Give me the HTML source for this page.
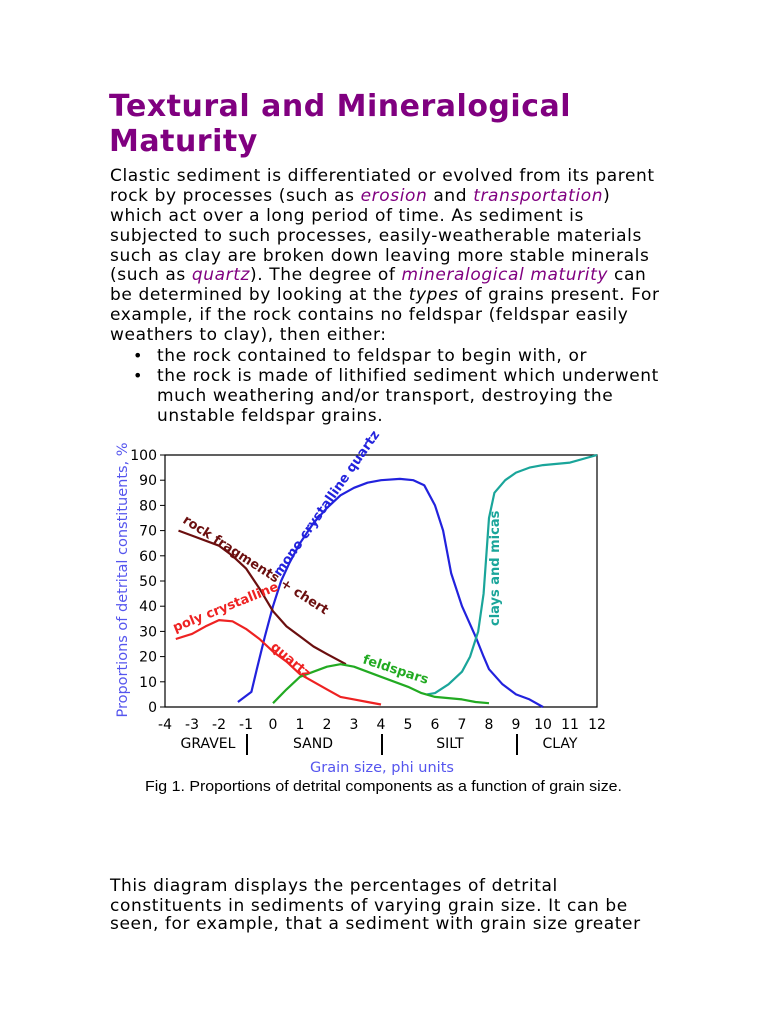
<!DOCTYPE html>
<html><head><meta charset="utf-8">
<style>
body{margin:0;background:#fff;width:768px;height:1024px;position:relative;overflow:hidden;font-family:"DejaVu Sans","Liberation Sans",sans-serif;color:#000}
.t{position:absolute;left:109px;font-size:30px;font-weight:bold;color:#800080;white-space:nowrap;letter-spacing:0.5px}
.l{position:absolute;left:110px;font-size:17px;line-height:20px;white-space:nowrap;letter-spacing:0.6px}
.p{color:#800080;font-style:italic}
.b{position:absolute;left:133px;font-size:16px}
</style></head><body>
<div class="t" style="top:89px">Textural and Mineralogical</div>
<div class="t" style="top:124px">Maturity</div>
<div>
<div class="l" style="top:166px">Clastic sediment is differentiated or evolved from its parent</div>
<div class="l" style="top:186px">rock by processes (such as <span class="p">erosion</span> and <span class="p">transportation</span>)</div>
<div class="l" style="top:206px">which act over a long period of time. As sediment is</div>
<div class="l" style="top:226px">subjected to such processes, easily-weatherable materials</div>
<div class="l" style="top:246px">such as clay are broken down leaving more stable minerals</div>
<div class="l" style="top:265px">(such as <span class="p">quartz</span>). The degree of <span class="p">mineralogical maturity</span> can</div>
<div class="l" style="top:285px">be determined by looking at the <i>types</i> of grains present. For</div>
<div class="l" style="top:305px">example, if the rock contains no feldspar (feldspar easily</div>
<div class="l" style="top:325px">weathers to clay), then either:</div>
</div>
<div>
<div class="b" style="top:346px">•</div><div class="l" style="left:157px;top:346px">the rock contained to feldspar to begin with, or</div>
<div class="b" style="top:366px">•</div><div class="l" style="left:157px;top:366px">the rock is made of lithified sediment which underwent</div>
<div class="l" style="left:157px;top:386px">much weathering and/or transport, destroying the</div>
<div class="l" style="left:157px;top:406px">unstable feldspar grains.</div>
</div>
<svg id="chart" style="position:absolute;left:0;top:0" width="768" height="1024"></svg>
<div style="position:absolute;left:145px;top:779px;font-family:'Liberation Sans',sans-serif;font-size:14.5px;transform-origin:0 0;transform:scaleX(1.1);white-space:nowrap">Fig 1. Proportions of detrital components as a function of grain size.</div>
<div>
<div class="l" style="top:876px">This diagram displays the percentages of detrital</div>
<div class="l" style="top:896px">constituents in sediments of varying grain size. It can be</div>
<div class="l" style="top:914px">seen, for example, that a sediment with grain size greater</div>
</div>
<script>
const xTicks=[-4,-3,-2,-1,0,1,2,3,4,5,6,7,8,9,10,11,12];
const yTicks=[0,10,20,30,40,50,60,70,80,90,100];
const monoX=[-1.3,-0.8,-0.6,-0.3,0,0.3,0.6,1,1.5,2,2.5,3,3.5,4,4.7,5.2,5.6,6,6.3,6.6,7,7.5,7.8,8,8.5,9,9.5,10];
const monoY=[2,6,15,28,40,50,57,65,73,79,84,87,89,90,90.5,90,88,80,70,53,40,28,20,15,9,5,3,0];
const clayX=[5.7,6,6.5,7,7.3,7.6,7.8,8,8.2,8.6,9,9.5,10,11,12];
const clayY=[5,5.5,9,14,20,30,45,75,85,90,93,95,96,97,100];
const rockX=[-3.5,-3,-2,-1.5,-1,-0.5,0,0.5,1,1.5,2,2.7];
const rockY=[70,68,64,60,55,47,38,32,28,24,21,17];
const polyX=[-3.6,-3,-2.5,-2,-1.5,-1,-0.5,0,0.5,1,1.5,2,2.5,3,3.5,4];
const polyY=[27,29,32,34.5,34,31,27,22,18,13,10,7,4,3,2,1];
const feldX=[0,0.5,1,1.5,2,2.5,3,4,5,5.5,6,7,7.5,8];
const feldY=[1.5,7,12,14,16,17,16,12,8,5.5,4,3,2,1.5];
const NS='http://www.w3.org/2000/svg';
const svg=document.getElementById('chart');
const X0=165,X1=597,Y0=707,Y1=455;
function sx(v){return X0+(v+4)/16*(X1-X0);}
function sy(v){return Y0-v/100*(Y0-Y1);}
function mk(t,a){const e=document.createElementNS(NS,t);for(const k in a)e.setAttribute(k,a[k]);svg.appendChild(e);return e;}
let ax=mk('path',{d:`M${X0},${Y1}V${Y0}H${X1}V${Y1}Z`,fill:'none',stroke:'#000','stroke-width':1.2});


yTicks.forEach(v=>{
 const ln=mk('line',{x1:X0-5,x2:X0,y1:sy(v),y2:sy(v),stroke:'#000'});
 
 
 const t=mk('text',{x:X0-8,y:sy(v)+5,'text-anchor':'end','font-size':14,'font-family':'DejaVu Sans,sans-serif'});
 t.textContent=v;
 
 
});
xTicks.forEach(v=>{
 const t=mk('text',{x:sx(v),y:729,'text-anchor':'middle','font-size':14,'font-family':'DejaVu Sans,sans-serif'});
 t.textContent=v;
 
 
});
[['GRAVEL',208],['SAND',313],['SILT',450],['CLAY',560]].forEach(c=>{
 const t=mk('text',{x:c[1],y:748,'text-anchor':'middle','font-size':14,'font-family':'DejaVu Sans,sans-serif'});
 t.textContent=c[0];
 
 
});
[-1,4,9].forEach(v=>{
 const ln=mk('line',{x1:sx(v)+1,x2:sx(v)+1,y1:734,y2:755,stroke:'#000','stroke-width':2});
 
 
});
let xt=mk('text',{x:382,y:772,'text-anchor':'middle','font-size':14.5,fill:'#5555ee','font-family':'DejaVu Sans,sans-serif'});
xt.textContent='Grain size, phi units';


let yt=mk('text',{x:0,y:0,'text-anchor':'middle','font-size':14.5,fill:'#5555ee','font-family':'DejaVu Sans,sans-serif',transform:'translate(127,580) rotate(-90)'});
yt.textContent='Proportions of detrital constituents, %';


function line(xs,ys,col,name){
 const d=xs.map((x,i)=>(i?'L':'M')+sx(x).toFixed(1)+','+sy(ys[i]).toFixed(1)).join('');
 const p=mk('path',{d:d,fill:'none',stroke:col,'stroke-width':2.2,'stroke-linejoin':'round'});
 
 
}
line(monoX,monoY,'#2222dd','mono-quartz-line');
line(clayX,clayY,'#1aa59a','clays-micas-line');
line(rockX,rockY,'#6b0f0f','rock-fragments-line');
line(polyX,polyY,'#ee2222','poly-quartz-line');
line(feldX,feldY,'#22aa22','feldspars-line');
function lab(txt,x,y,r,col,name){
 const t=mk('text',{x:0,y:0,'font-size':13,'font-weight':'bold',fill:col,'font-family':'DejaVu Sans,sans-serif',transform:`translate(${x},${y}) rotate(${r})`});
 t.textContent=txt;
 
 
}
lab('mono crystalline quartz',280,577,-55,'#2222dd','mono-quartz-label');
lab('rock fragments + chert',182,522,33,'#6b0f0f','rock-fragments-label');
lab('poly crystalline',175,632,-22,'#ee2222','poly-quartz-label');
lab('quartz',270,648,40,'#ee2222','poly-quartz-label-2');
lab('feldspars',362,663,18,'#22aa22','feldspars-label');
lab('clays and micas',499,626,-90,'#1aa59a','clays-micas-label');
</script>
</body></html>
